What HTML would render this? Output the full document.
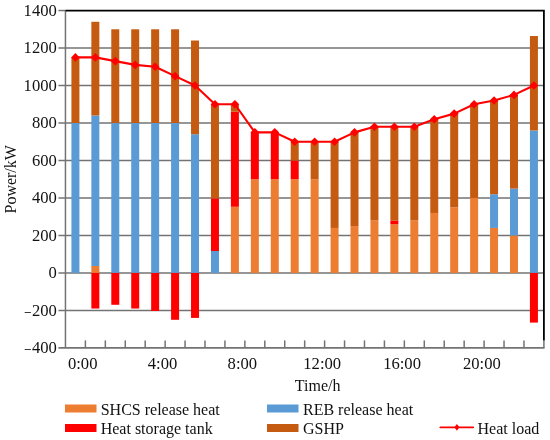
<!DOCTYPE html><html><head><meta charset="utf-8"><title>Heat power balance</title>
<style>html,body{margin:0;padding:0;background:#fff}svg{display:block}text{font-family:"Liberation Serif","Times New Roman",serif;fill:#111}</style></head><body>
<svg width="550" height="440" viewBox="0 0 550 440">
<rect width="550" height="440" fill="#fff"/>
<line x1="58.45" x2="543.90" y1="310.41" y2="310.41" stroke="#737373" stroke-width="1.5"/>
<line x1="58.45" x2="543.90" y1="272.93" y2="272.93" stroke="#737373" stroke-width="1.5"/>
<line x1="58.45" x2="543.90" y1="235.45" y2="235.45" stroke="#737373" stroke-width="1.5"/>
<line x1="58.45" x2="543.90" y1="197.96" y2="197.96" stroke="#737373" stroke-width="1.5"/>
<line x1="58.45" x2="543.90" y1="160.48" y2="160.48" stroke="#737373" stroke-width="1.5"/>
<line x1="58.45" x2="543.90" y1="122.99" y2="122.99" stroke="#737373" stroke-width="1.5"/>
<line x1="58.45" x2="543.90" y1="85.51" y2="85.51" stroke="#737373" stroke-width="1.5"/>
<line x1="58.45" x2="543.90" y1="48.03" y2="48.03" stroke="#737373" stroke-width="1.5"/>
<rect x="71.42" y="122.99" width="8.0" height="149.94" fill="#5B9BD5"/>
<rect x="71.42" y="57.40" width="8.0" height="65.60" fill="#C55A11"/>
<rect x="91.35" y="266.00" width="8.0" height="6.93" fill="#ED7D31"/>
<rect x="91.35" y="115.50" width="8.0" height="150.50" fill="#5B9BD5"/>
<rect x="91.35" y="21.79" width="8.0" height="93.71" fill="#C55A11"/>
<rect x="91.35" y="272.93" width="8.0" height="35.61" fill="#FF0000"/>
<rect x="111.29" y="122.99" width="8.0" height="149.94" fill="#5B9BD5"/>
<rect x="111.29" y="29.28" width="8.0" height="93.71" fill="#C55A11"/>
<rect x="111.29" y="272.93" width="8.0" height="31.86" fill="#FF0000"/>
<rect x="131.22" y="122.99" width="8.0" height="149.94" fill="#5B9BD5"/>
<rect x="131.22" y="29.28" width="8.0" height="93.71" fill="#C55A11"/>
<rect x="131.22" y="272.93" width="8.0" height="35.61" fill="#FF0000"/>
<rect x="151.16" y="122.99" width="8.0" height="149.94" fill="#5B9BD5"/>
<rect x="151.16" y="29.28" width="8.0" height="93.71" fill="#C55A11"/>
<rect x="151.16" y="272.93" width="8.0" height="38.05" fill="#FF0000"/>
<rect x="171.09" y="122.99" width="8.0" height="149.94" fill="#5B9BD5"/>
<rect x="171.09" y="29.28" width="8.0" height="93.71" fill="#C55A11"/>
<rect x="171.09" y="272.93" width="8.0" height="46.86" fill="#FF0000"/>
<rect x="191.03" y="134.24" width="8.0" height="138.69" fill="#5B9BD5"/>
<rect x="191.03" y="40.53" width="8.0" height="93.71" fill="#C55A11"/>
<rect x="191.03" y="272.93" width="8.0" height="44.98" fill="#FF0000"/>
<rect x="210.97" y="251.00" width="8.0" height="21.93" fill="#5B9BD5"/>
<rect x="210.97" y="198.34" width="8.0" height="52.67" fill="#FF0000"/>
<rect x="210.97" y="104.25" width="8.0" height="94.08" fill="#C55A11"/>
<rect x="230.90" y="206.77" width="8.0" height="66.16" fill="#ED7D31"/>
<rect x="230.90" y="111.75" width="8.0" height="95.02" fill="#FF0000"/>
<rect x="230.90" y="104.25" width="8.0" height="7.50" fill="#C55A11"/>
<rect x="250.84" y="179.22" width="8.0" height="93.71" fill="#ED7D31"/>
<rect x="250.84" y="132.37" width="8.0" height="46.85" fill="#FF0000"/>
<rect x="270.77" y="179.22" width="8.0" height="93.71" fill="#ED7D31"/>
<rect x="270.77" y="132.37" width="8.0" height="46.85" fill="#FF0000"/>
<rect x="290.71" y="179.22" width="8.0" height="93.71" fill="#ED7D31"/>
<rect x="290.71" y="160.48" width="8.0" height="18.74" fill="#FF0000"/>
<rect x="290.71" y="141.74" width="8.0" height="18.74" fill="#C55A11"/>
<rect x="310.64" y="179.22" width="8.0" height="93.71" fill="#ED7D31"/>
<rect x="310.64" y="141.74" width="8.0" height="37.48" fill="#C55A11"/>
<rect x="330.58" y="227.95" width="8.0" height="44.98" fill="#ED7D31"/>
<rect x="330.58" y="141.74" width="8.0" height="86.21" fill="#C55A11"/>
<rect x="350.51" y="226.07" width="8.0" height="46.86" fill="#ED7D31"/>
<rect x="350.51" y="132.37" width="8.0" height="93.71" fill="#C55A11"/>
<rect x="370.45" y="220.45" width="8.0" height="52.48" fill="#ED7D31"/>
<rect x="370.45" y="126.74" width="8.0" height="93.71" fill="#C55A11"/>
<rect x="390.38" y="224.20" width="8.0" height="48.73" fill="#ED7D31"/>
<rect x="390.38" y="220.45" width="8.0" height="3.75" fill="#FF0000"/>
<rect x="390.38" y="126.74" width="8.0" height="93.71" fill="#C55A11"/>
<rect x="410.32" y="220.45" width="8.0" height="52.48" fill="#ED7D31"/>
<rect x="410.32" y="126.74" width="8.0" height="93.71" fill="#C55A11"/>
<rect x="430.26" y="212.96" width="8.0" height="59.97" fill="#ED7D31"/>
<rect x="430.26" y="119.25" width="8.0" height="93.71" fill="#C55A11"/>
<rect x="450.19" y="207.33" width="8.0" height="65.60" fill="#ED7D31"/>
<rect x="450.19" y="113.62" width="8.0" height="93.71" fill="#C55A11"/>
<rect x="470.13" y="197.96" width="8.0" height="74.97" fill="#ED7D31"/>
<rect x="470.13" y="104.25" width="8.0" height="93.71" fill="#C55A11"/>
<rect x="490.06" y="227.95" width="8.0" height="44.98" fill="#ED7D31"/>
<rect x="490.06" y="194.21" width="8.0" height="33.74" fill="#5B9BD5"/>
<rect x="490.06" y="100.50" width="8.0" height="93.71" fill="#C55A11"/>
<rect x="510.00" y="235.45" width="8.0" height="37.48" fill="#ED7D31"/>
<rect x="510.00" y="188.59" width="8.0" height="46.85" fill="#5B9BD5"/>
<rect x="510.00" y="94.88" width="8.0" height="93.71" fill="#C55A11"/>
<rect x="529.93" y="130.49" width="8.0" height="142.44" fill="#5B9BD5"/>
<rect x="529.93" y="36.03" width="8.0" height="94.46" fill="#C55A11"/>
<rect x="529.93" y="272.93" width="8.0" height="49.67" fill="#FF0000"/>
<line x1="58.45" x2="544.50" y1="347.90" y2="347.90" stroke="#737373" stroke-width="1.8"/>
<line x1="65.45" x2="65.45" y1="10.54" y2="347.90" stroke="#737373" stroke-width="1.5"/>
<line x1="85.39" x2="85.39" y1="340.40" y2="347.90" stroke="#737373" stroke-width="1.5"/>
<line x1="105.32" x2="105.32" y1="340.40" y2="347.90" stroke="#737373" stroke-width="1.5"/>
<line x1="125.26" x2="125.26" y1="340.40" y2="347.90" stroke="#737373" stroke-width="1.5"/>
<line x1="145.19" x2="145.19" y1="340.40" y2="347.90" stroke="#737373" stroke-width="1.5"/>
<line x1="165.13" x2="165.13" y1="340.40" y2="347.90" stroke="#737373" stroke-width="1.5"/>
<line x1="185.06" x2="185.06" y1="340.40" y2="347.90" stroke="#737373" stroke-width="1.5"/>
<line x1="205.00" x2="205.00" y1="340.40" y2="347.90" stroke="#737373" stroke-width="1.5"/>
<line x1="224.93" x2="224.93" y1="340.40" y2="347.90" stroke="#737373" stroke-width="1.5"/>
<line x1="244.87" x2="244.87" y1="340.40" y2="347.90" stroke="#737373" stroke-width="1.5"/>
<line x1="264.80" x2="264.80" y1="340.40" y2="347.90" stroke="#737373" stroke-width="1.5"/>
<line x1="284.74" x2="284.74" y1="340.40" y2="347.90" stroke="#737373" stroke-width="1.5"/>
<line x1="304.67" x2="304.67" y1="340.40" y2="347.90" stroke="#737373" stroke-width="1.5"/>
<line x1="324.61" x2="324.61" y1="340.40" y2="347.90" stroke="#737373" stroke-width="1.5"/>
<line x1="344.55" x2="344.55" y1="340.40" y2="347.90" stroke="#737373" stroke-width="1.5"/>
<line x1="364.48" x2="364.48" y1="340.40" y2="347.90" stroke="#737373" stroke-width="1.5"/>
<line x1="384.42" x2="384.42" y1="340.40" y2="347.90" stroke="#737373" stroke-width="1.5"/>
<line x1="404.35" x2="404.35" y1="340.40" y2="347.90" stroke="#737373" stroke-width="1.5"/>
<line x1="424.29" x2="424.29" y1="340.40" y2="347.90" stroke="#737373" stroke-width="1.5"/>
<line x1="444.22" x2="444.22" y1="340.40" y2="347.90" stroke="#737373" stroke-width="1.5"/>
<line x1="464.16" x2="464.16" y1="340.40" y2="347.90" stroke="#737373" stroke-width="1.5"/>
<line x1="484.09" x2="484.09" y1="340.40" y2="347.90" stroke="#737373" stroke-width="1.5"/>
<line x1="504.03" x2="504.03" y1="340.40" y2="347.90" stroke="#737373" stroke-width="1.5"/>
<line x1="523.96" x2="523.96" y1="340.40" y2="347.90" stroke="#737373" stroke-width="1.5"/>
<line x1="543.90" x2="543.90" y1="340.40" y2="347.90" stroke="#737373" stroke-width="1.5"/>
<line x1="58.45" x2="65.45" y1="10.54" y2="10.54" stroke="#737373" stroke-width="1.5"/>
<polyline points="65.45,10.54 543.90,10.54 543.90,340.40" fill="none" stroke="#000" stroke-width="1.8"/>
<polyline points="75.42,57.40 95.35,57.40 115.29,61.15 135.22,64.89 155.16,66.77 175.09,76.14 195.03,85.51 214.97,104.25 234.90,104.25 254.84,132.37 274.77,132.37 294.71,141.74 314.64,141.74 334.58,141.74 354.51,132.37 374.45,126.74 394.38,126.74 414.32,126.74 434.26,119.25 454.19,113.62 474.13,104.25 494.06,100.50 514.00,94.88 533.93,85.51" fill="none" stroke="#FF0000" stroke-width="2.1" stroke-linejoin="round"/>
<polygon points="71.12,57.40 75.42,53.10 79.72,57.40 75.42,61.70" fill="#FF0000"/>
<polygon points="91.05,57.40 95.35,53.10 99.65,57.40 95.35,61.70" fill="#FF0000"/>
<polygon points="110.99,61.15 115.29,56.85 119.59,61.15 115.29,65.45" fill="#FF0000"/>
<polygon points="130.92,64.89 135.22,60.59 139.52,64.89 135.22,69.19" fill="#FF0000"/>
<polygon points="150.86,66.77 155.16,62.47 159.46,66.77 155.16,71.07" fill="#FF0000"/>
<polygon points="170.79,76.14 175.09,71.84 179.39,76.14 175.09,80.44" fill="#FF0000"/>
<polygon points="190.73,85.51 195.03,81.21 199.33,85.51 195.03,89.81" fill="#FF0000"/>
<polygon points="210.67,104.25 214.97,99.95 219.27,104.25 214.97,108.55" fill="#FF0000"/>
<polygon points="230.60,104.25 234.90,99.95 239.20,104.25 234.90,108.55" fill="#FF0000"/>
<polygon points="250.54,132.37 254.84,128.06 259.14,132.37 254.84,136.67" fill="#FF0000"/>
<polygon points="270.47,132.37 274.77,128.06 279.07,132.37 274.77,136.67" fill="#FF0000"/>
<polygon points="290.41,141.74 294.71,137.44 299.01,141.74 294.71,146.04" fill="#FF0000"/>
<polygon points="310.34,141.74 314.64,137.44 318.94,141.74 314.64,146.04" fill="#FF0000"/>
<polygon points="330.28,141.74 334.58,137.44 338.88,141.74 334.58,146.04" fill="#FF0000"/>
<polygon points="350.21,132.37 354.51,128.06 358.81,132.37 354.51,136.67" fill="#FF0000"/>
<polygon points="370.15,126.74 374.45,122.44 378.75,126.74 374.45,131.04" fill="#FF0000"/>
<polygon points="390.08,126.74 394.38,122.44 398.68,126.74 394.38,131.04" fill="#FF0000"/>
<polygon points="410.02,126.74 414.32,122.44 418.62,126.74 414.32,131.04" fill="#FF0000"/>
<polygon points="429.96,119.25 434.26,114.95 438.56,119.25 434.26,123.55" fill="#FF0000"/>
<polygon points="449.89,113.62 454.19,109.32 458.49,113.62 454.19,117.92" fill="#FF0000"/>
<polygon points="469.83,104.25 474.13,99.95 478.43,104.25 474.13,108.55" fill="#FF0000"/>
<polygon points="489.76,100.50 494.06,96.20 498.36,100.50 494.06,104.80" fill="#FF0000"/>
<polygon points="509.70,94.88 514.00,90.58 518.30,94.88 514.00,99.18" fill="#FF0000"/>
<polygon points="529.63,85.51 533.93,81.21 538.23,85.51 533.93,89.81" fill="#FF0000"/>
<text x="56.8" y="353.30" font-size="16.6" text-anchor="end">400</text>
<text x="24.8" y="353.30" font-size="16.6" textLength="6.1" lengthAdjust="spacingAndGlyphs">–</text>
<text x="56.8" y="315.81" font-size="16.6" text-anchor="end">200</text>
<text x="24.8" y="315.81" font-size="16.6" textLength="6.1" lengthAdjust="spacingAndGlyphs">–</text>
<text x="56.8" y="278.33" font-size="16.6" text-anchor="end">0</text>
<text x="56.8" y="240.85" font-size="16.6" text-anchor="end">200</text>
<text x="56.8" y="203.36" font-size="16.6" text-anchor="end">400</text>
<text x="56.8" y="165.88" font-size="16.6" text-anchor="end">600</text>
<text x="56.8" y="128.39" font-size="16.6" text-anchor="end">800</text>
<text x="56.8" y="90.91" font-size="16.6" text-anchor="end">1000</text>
<text x="56.8" y="53.43" font-size="16.6" text-anchor="end">1200</text>
<text x="56.8" y="15.94" font-size="16.6" text-anchor="end">1400</text>
<text x="82.70" y="369.2" font-size="16.6" text-anchor="middle">0:00</text>
<text x="162.54" y="369.2" font-size="16.6" text-anchor="middle">4:00</text>
<text x="242.38" y="369.2" font-size="16.6" text-anchor="middle">8:00</text>
<text x="322.22" y="369.2" font-size="16.6" text-anchor="middle">12:00</text>
<text x="402.06" y="369.2" font-size="16.6" text-anchor="middle">16:00</text>
<text x="481.90" y="369.2" font-size="16.6" text-anchor="middle">20:00</text>
<text x="317.7" y="391.4" font-size="16" text-anchor="middle">Time/h</text>
<text transform="translate(15.8,179.3) rotate(-90)" font-size="16" text-anchor="middle">Power/kW</text>
<rect x="65" y="404.5" width="31.5" height="8" fill="#ED7D31"/>
<rect x="65" y="424" width="31.5" height="8" fill="#FF0000"/>
<rect x="267" y="404.5" width="31.5" height="8" fill="#5B9BD5"/>
<rect x="267" y="424" width="31.5" height="8" fill="#C55A11"/>
<text x="100.7" y="414.7" font-size="16">SHCS release heat</text>
<text x="100.7" y="434.3" font-size="16">Heat storage tank</text>
<text x="303" y="414.7" font-size="16">REB release heat</text>
<text x="303" y="434.3" font-size="16">GSHP</text>
<line x1="440.3" x2="473.2" y1="427.35" y2="427.35" stroke="#FF0000" stroke-width="1.8" stroke-linecap="round"/>
<polygon points="454.40,427.35 456.90,424.05 459.40,427.35 456.90,430.65" fill="#FF0000"/>
<text x="477.5" y="433.6" font-size="16">Heat load</text>
</svg></body></html>
